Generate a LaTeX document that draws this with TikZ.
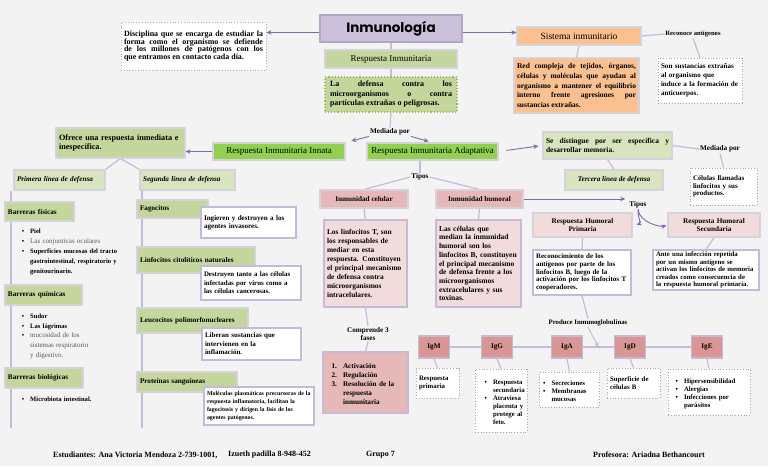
\documentclass[tikz,border=0pt]{standalone}
\usepackage{fontspec}
\setmainfont{Liberation Serif}
\newfontfamily\titlefont{Poppins}
\usepackage{enumitem}
\setlist[itemize]{leftmargin=12pt,labelsep=6pt,itemsep=0pt,topsep=0pt,parsep=0pt,partopsep=0pt,label=\textbullet}
\setlist[enumerate]{leftmargin=17pt,labelsep=6pt,itemsep=0pt,topsep=0pt,parsep=0pt,partopsep=0pt,label=\arabic*.}
\usetikzlibrary{arrows.meta,calc,backgrounds}
\hyphenpenalty=10000
\exhyphenpenalty=10000
\tolerance=9999
\emergencystretch=10pt
\definecolor{bgcolor}{HTML}{F3F3F3}
\definecolor{lavfill}{HTML}{CCC1DA}
\definecolor{lavedge}{HTML}{B2A6C6}
\definecolor{linkcolor}{HTML}{C5BAD8}
\definecolor{arrowcolor}{HTML}{7E68A6}
\definecolor{boxedge}{HTML}{D6D2DC}
\definecolor{olivegreen}{HTML}{C3D69B}
\definecolor{brightgreen}{HTML}{92D050}
\definecolor{palegreen}{HTML}{D7E4BD}
\definecolor{dotgreen}{HTML}{9BBB59}
\definecolor{orangefill}{HTML}{FAC090}
\definecolor{pinkfill}{HTML}{E6B9B8}
\definecolor{palepink}{HTML}{F2DCDB}
\definecolor{igpink}{HTML}{DA9694}
\definecolor{dotgray}{HTML}{A6A6A6}
\definecolor{graytext}{HTML}{595959}
\newcommand{\fs}[2]{\fontsize{#1}{#2}\selectfont\bfseries}
\newcommand{\listtext}{\fontsize{6.6}{10}\selectfont\bfseries}
\newcommand{\headtext}{\fontsize{9}{10}\selectfont}
\newcommand{\smallhead}{\fontsize{7.2}{8.2}\selectfont\bfseries}
\newcommand{\soft}[1]{{\mdseries\color{graytext}\fontsize{7}{9.5}\selectfont#1}}
\tikzset{
  boxbase/.style={draw=boxedge,line width=1.1pt,inner xsep=3pt,inner ysep=1pt},
  titlebox/.style={boxbase,draw=lavedge,fill=lavfill,line width=1.3pt,
    font=\titlefont\bfseries\fontsize{13.5}{14}\selectfont},
  orangebox/.style={boxbase,fill=orangefill},
  greenbox/.style={boxbase,fill=olivegreen},
  brightbox/.style={boxbase,fill=brightgreen,font=\headtext},
  linebox/.style={boxbase,fill=palegreen,font=\smallhead\itshape},
  pinkbox/.style={boxbase,fill=pinkfill,font=\smallhead},
  palepinkbox/.style={boxbase,fill=palepink,draw=linkcolor,line width=1.4pt},
  notebox/.style={boxbase,fill=white,draw=linkcolor,line width=1.4pt},
  dotbox/.style={draw=dotgray,dotted,line width=0.8pt,fill=white,inner xsep=3pt,inner ysep=1pt},
  igbox/.style={boxbase,fill=igpink,draw=linkcolor,line width=1.6pt,
    minimum width=31pt,minimum height=22pt,font=\smallhead},
  linklabel/.style={inner sep=1pt,font=\smallhead},
  linkline/.style={draw=linkcolor,line width=1.2pt},
  linkarrow/.style={draw=arrowcolor,line width=0.9pt,-{Stealth[length=5pt,width=4.5pt]}},
  colline/.style={draw=linkcolor,line width=2.5pt},
}
\begin{document}
\begin{tikzpicture}[x=1pt,y=-1pt]
\useasboundingbox (0,0) rectangle (768,466);

% top row
\node[dotbox,draw=lavedge,text width=139,minimum height=48,align=justify,font=\fs{8}{7.6}] (def) at (193.5,46)
  {Disciplina que se encarga de estudiar la\linebreak forma como el organismo se defiende\linebreak de los millones de patógenos con los\linebreak que entramos en contacto cada día.};
\node[titlebox,minimum width=142,minimum height=27] (title) at (391,28.5) {Inmunología};
\node[orangebox,minimum width=124,minimum height=18,font=\fontsize{9.5}{10}\selectfont] (sis) at (579,36) {Sistema inmunitario};
\node[linklabel,font=\fs{6.6}{8}] (recon) at (693,34) {Reconoce antígenos};
\node[dotbox,text width=78,minimum height=45,align=left,font=\fs{7.1}{9}] (antig) at (700,80.5)
  {Son sustancias extrañas\\al organismo que\\induce a la formación de\\anticuerpos.};
\node[orangebox,text width=119,minimum height=55,align=justify,font=\fs{7.5}{9.8}] (sisdef) at (576.5,85.5)
  {Red compleja de tejidos, órganos, células y moléculas que ayudan al organismo a mantener el equilibrio interno frente agresiones por sustancias extrañas.};
\node[greenbox,minimum width=132,minimum height=18,font=\headtext] (resp) at (391,59) {Respuesta Inmunitaria};
\node[greenbox,draw=dotgreen,dotted,inner xsep=5pt,text width=122,minimum height=35,align=justify,font=\fs{8}{9.5}] (respdef) at (391,94.5)
  {La defensa contra los\linebreak microorganismos o contra\linebreak partículas extrañas o peligrosas.};
\node[linklabel] (med1) at (390,132) {Mediada por};

% innate branch
\node[brightbox,minimum width=132,minimum height=17] (innata) at (279,151.5) {Respuesta Inmunitaria Innata};
\node[greenbox,text width=123,minimum height=30,align=left,font=\fs{8.2}{9}] (ofrece) at (120.5,143)
  {Ofrece una respuesta inmediata e\\inespecífica.};
\node[linebox,text width=85,minimum height=20,align=left] (prim) at (59.5,180) {Primera línea de defensa};
\node[linebox,text width=89,minimum height=20,align=left] (seg) at (187.5,180) {Segunda línea de defensa};

\node[greenbox,text width=63,minimum height=19,align=left,font=\smallhead] (bfis) at (39.5,211.5) {Barreras físicas};
\node[anchor=north west,inner sep=0pt,text width=105,font=\listtext] (bfislist) at (18,223)
  {\begin{itemize}\item Piel \item \soft{Las conjuntivas oculares} \item Superficies mucosas del tracto\\gastrointestinal, respiratorio y\\genitourinario.\end{itemize}};
\node[greenbox,text width=71,minimum height=20,align=left,font=\smallhead] (bquim) at (43.5,295) {Barreras químicas};
\node[anchor=north west,inner sep=0pt,text width=100,font=\listtext] (bquimlist) at (18,308)
  {\begin{itemize}\item Sudor \item Las lágrimas \item \soft{mucosidad de los\\sistemas respiratorio\\y digestivo.}\end{itemize}};
\node[greenbox,text width=72,minimum height=20,align=left,font=\smallhead] (bbio) at (44,378) {Barreras biológicas};
\node[anchor=north west,inner sep=0pt,text width=100,font=\listtext] (bbiolist) at (18,391)
  {\begin{itemize}\item Microbiota intestinal.\end{itemize}};

\node[greenbox,text width=65,minimum height=18,align=left,font=\smallhead] (fago) at (172.5,209) {Fagocitos};
\node[notebox,text width=89,minimum height=31,align=left,font=\fs{7.1}{8}] (fagodef) at (248.5,222.5)
  {Ingieren y destruyen a los\\agentes invasores.};
\node[greenbox,text width=112,minimum height=26,align=left,font=\smallhead] (linf) at (196,260) {Linfocitos citolíticos naturales};
\node[notebox,text width=94,minimum height=34,align=left,font=\fs{6.9}{8.5}] (linfdef) at (251,283)
  {Destruyen tanto a las células\\infectadas por virus como a\\las células cancerosas.};
\node[greenbox,text width=105,minimum height=25,align=left,font=\smallhead] (leuc) at (192.5,320.5) {Leucocitos polimorfonucleares};
\node[notebox,text width=93,minimum height=32,align=left,font=\fs{7}{8.5}] (leucdef) at (251.5,344)
  {Liberan sustancias que\\intervienen en la\\inflamación.};
\node[greenbox,text width=94,minimum height=20,align=left,font=\smallhead] (prot) at (187,382) {Proteínas sanguíneas};
\node[notebox,text width=104,minimum height=38,align=left,font=\fs{5.9}{8.2}] (protdef) at (259,406)
  {Moléculas plasmáticas precursoras de la\\respuesta inflamatoria, facilitan la\\fagocitosis y dirigen la lisis de los\\agentes patógenos.};

% adaptive branch
\node[brightbox,minimum width=131,minimum height=17] (adapt) at (432.5,151.5) {Respuesta Inmunitaria Adaptativa};
\node[linebox,font=\fs{7.5}{8.5},text width=123,minimum height=27,align=justify] (sedist) at (607.5,145.5)
  {Se distingue por ser específica y desarrollar memoria.};
\node[linklabel] (med2) at (720,149) {Mediada por};
\node[dotbox,text width=61,minimum height=37,align=left,font=\fs{7}{7.8}] (celdots) at (723.5,186.5)
  {Células llamadas\\linfocitos y sus\\productos.};
\node[linebox,minimum width=98,minimum height=20] (tercera) at (614,180) {Tercera línea de defensa};

\node[linklabel] (tipos1) at (420,177) {Tipos};
\node[pinkbox,minimum width=88,minimum height=18] (cel) at (364,199) {Inmunidad celular};
\node[pinkbox,minimum width=87,minimum height=18] (hum) at (479.5,199) {Inmunidad humoral};
\node[palepinkbox,text width=77,minimum height=87,align=left,font=\fs{7.4}{8.9}] (celdef) at (365.5,263.5)
  {Los linfocitos T, son\\los responsables de\\mediar en esta\\respuesta. Constituyen\\el principal mecanismo\\de defensa contra\\microorganismos\\intracelulares.};
\node[palepinkbox,text width=79,minimum height=87,align=left,font=\fs{7.5}{8.7}] (humdef) at (478.5,263.5)
  {Las células que\\median la inmunidad\\humoral son los\\linfocitos B, constituyen\\el principal mecanismo\\de defensa frente a los\\microorganismos\\extracelulares y sus\\toxinas.};
\node[linklabel,align=center] (fases) at (368,334) {Comprende 3\\fases};
\node[pinkbox,draw=linkcolor,line width=1.4pt,text width=79,minimum height=61,font=\fs{7.2}{9}] (fasesbox) at (365.5,382.5)
  {\begin{enumerate}\item Activación \item Regulación \item Resolución de la\\respuesta\\inmunitaria\end{enumerate}};

\node[linklabel] (tipos2) at (638,205) {Tipos};
\node[palepinkbox,draw=boxedge,text width=93,minimum height=24,align=center,font=\smallhead] (hp) at (582.5,225) {Respuesta Humoral\\Primaria};
\node[palepinkbox,draw=boxedge,text width=86,minimum height=24,align=center,font=\smallhead] (hs) at (714,225) {Respuesta Humoral\\Secundaria};
\node[notebox,text width=92,minimum height=45,align=left,font=\fs{7}{7.6}] (hpdef) at (582,272.5)
  {Reconocimiento de los\\antígenos por parte de los\\linfocitos B, luego de la\\activación por los linfocitos T\\cooperadores.};
\node[notebox,text width=100,minimum height=40,align=left,font=\fs{6.8}{7.4}] (hsdef) at (706,270)
  {Ante una infección repetida\\por un mismo antígeno se\\activan los linfocitos de memoria\\creados como consecuencia de\\la respuesta humoral primaria.};
\node[linklabel,font=\fs{6.8}{8}] (prod) at (588,323) {Produce Inmunoglobulinas};

\node[igbox] (igm) at (434,347) {IgM};
\node[igbox] (igg) at (497,347) {IgG};
\node[igbox] (iga) at (567,347) {IgA};
\node[igbox] (igd) at (630,347) {IgD};
\node[igbox] (ige) at (707,347) {IgE};
\node[dotbox,text width=37,minimum height=30,align=left,font=\fs{6.8}{8}] (igmd) at (437.5,383) {Respuesta\\primaria};
\node[dotbox,inner xsep=0pt,text width=52,minimum height=63,font=\fs{6.8}{8}] (iggd) at (501,400.5)
  {\begin{itemize}[leftmargin=18pt]\item Respuesta\\secundaria \item Atraviesa\\placenta y\\protege al\\feto.\end{itemize}};
\node[dotbox,inner xsep=0pt,text width=60,minimum height=35,font=\fs{6.8}{8}] (igad) at (569.5,389.5)
  {\begin{itemize}\item Secreciones \item Membranas\\mucosas\end{itemize}};
\node[dotbox,text width=47,minimum height=30,align=left,font=\fs{6.8}{8}] (igdd) at (633.5,383) {Superficie de\\células B};
\node[dotbox,inner xsep=0pt,text width=82,minimum height=46,font=\fs{6.8}{8}] (iged) at (709,392)
  {\begin{itemize}[leftmargin=16pt]\item Hipersensibilidad \item Alergias \item Infecciones por\\parásitos\end{itemize}};

% footer
\node[anchor=west,inner sep=0pt,font=\fs{8}{9}] (foot1) at (53,455) {Estudiantes: Ana Victoria Mendoza 2-739-1001,};
\node[anchor=west,inner sep=0pt,font=\fs{8}{9}] (foot2) at (228,455) {Izueth padilla 8-948-452};
\node[anchor=west,inner sep=0pt,font=\fs{8}{9}] (foot3) at (366,455) {Grupo 7};
\node[anchor=west,inner sep=0pt,font=\fs{8}{9}] (foot4) at (593,455) {Profesora: Ariadna Bethancourt};

\coordinate (primend) at (11,428);
\coordinate (segend) at (142,428);

\begin{pgfonlayer}{background}
  \fill[bgcolor] (0,0) rectangle (768,466);
  % connectors
  \draw[linkarrow] ([yshift=-4pt]title.west) -- ([yshift=-4pt]title.west -| def.east);
  \draw[linkarrow] ([yshift=-4pt]title.east) -- ([yshift=-4pt]title.east -| sis.west);
  \draw[linkline] (sis.east) -- (recon.west);
  \draw[linkline] (recon.south) -- (antig.north);
  \draw[linkline] (sis.south) -- (sisdef.north);
  \draw[linkline] (title.south) -- (resp.north);
  \draw[linkline] (resp.south) -- (respdef.north);
  \draw[linkline] (respdef.south) -- (med1.north);
  \draw[linkarrow,shorten >=6pt] (med1.south west) -- (innata.north east);
  \draw[linkarrow,shorten >=4pt] (med1.south east) -- (adapt.north);
  \draw[linkarrow] (innata.west) -- (innata.west -| ofrece.east);
  \draw[linkline] (ofrece.south) -- (prim.north east);
  \draw[linkline] (ofrece.south) -- (seg.north west);
  \draw[colline] (prim.south -| primend) -- (primend);
  \draw[colline] (seg.south -| segend) -- (segend);
  \draw[linkarrow,shorten <=8pt,shorten >=4pt] (adapt.east) -- (sedist.west);
  \draw[linkline] (sedist.east) -- (med2.west);
  \draw[linkline] (med2.south) -- (celdots.north);
  \draw[linkline] (sedist.south) -- (tercera.north);
  \draw[linkline] (adapt.south -| tipos1) -- (tipos1.north);
  \draw[linkline] (tipos1.west) -- (cel.north);
  \draw[linkline] (tipos1.east) -- (hum.north);
  \draw[linkline] (cel.south) -- (celdef.north);
  \draw[linkline] (celdef.south) -- (fases.north);
  \draw[linkline] (fases.south) -- (fasesbox.north);
  \draw[linkline] (hum.south) -- (humdef.north);
  \draw[linkarrow,shorten >=3pt] (hum.east) -- (hum.east -| tipos2.west);
  \draw[linkarrow,shorten >=1pt] (tipos2.south) .. controls +(0,10) and +(6,-2) .. ([xshift=3pt]hp.east);
  \draw[linkarrow,shorten >=1pt] (tipos2.south) .. controls +(2,14) and +(-6,2) .. (hs.west);
  \draw[linkline] (hp.south) -- (hpdef.north);
  \draw[linkline] (hs.south) -- (hsdef.north);
  \draw[linkline] (hpdef.south) -- (prod.north);
  \draw[linkarrow,draw=linkcolor] (prod.south) -- ($(iga.east)!0.5!(igd.west)$);
  \draw[linkline] (igm.east) -- (igg.west);
  \draw[linkline] (igg.east) -- (iga.west);
  \draw[linkline] (iga.east) -- (igd.west);
  \draw[linkline] (igd.east) -- (ige.west);
  \draw[linkline] (igm.south) -- (igmd.north);
  \draw[linkline] (igg.south) -- (iggd.north);
  \draw[linkline] (iga.south) -- (igad.north);
  \draw[linkline] (igd.south) -- (igdd.north);
  \draw[linkline] (ige.south) -- (iged.north);
\end{pgfonlayer}
\end{tikzpicture}
\end{document}
